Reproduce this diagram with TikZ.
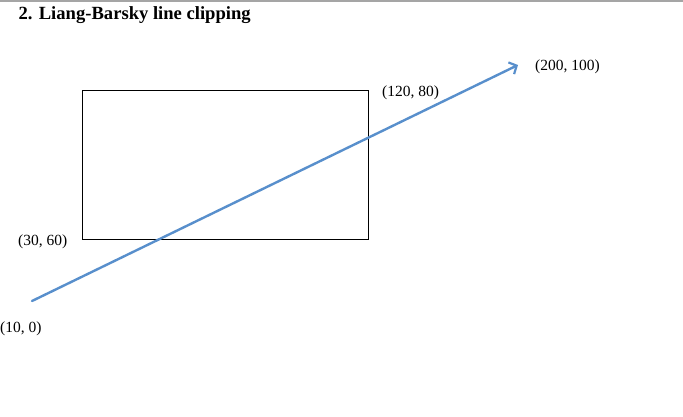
\documentclass[tikz,border=0pt]{standalone}
\usepackage{fontspec}
\setmainfont{Liberation Serif}
\usetikzlibrary{arrows.meta}
\definecolor{lineblue}{RGB}{88,143,204}
\definecolor{rulegray}{RGB}{165,165,165}
\tikzset{
  coordlabel/.style={anchor=base west, inner sep=0pt, font=\fontsize{15.5}{18}\selectfont},
  cliprect/.style={draw=black, line width=0.9pt, inner sep=0pt, minimum width=286pt, minimum height=149pt, anchor=north west},
  segment/.style={draw=lineblue, line width=2.4pt, line cap=round, -{Straight Barb[length=6pt,width=13pt,line width=2.2pt]}}
}
\begin{document}
\begin{tikzpicture}[x=1pt,y=-1pt]
\useasboundingbox (0,0) rectangle (683,416);
\fill[white] (0,0) rectangle (683,416);
\coordinate (rl) at (0,1);
\coordinate (rr) at (683,1);
\draw[rulegray, line width=2pt] (rl) -- (rr);
\node[anchor=base west, inner sep=0pt, font=\fontsize{18.6}{22}\selectfont\bfseries] (title) at (18.5,19.5) {2. Liang-Barsky line clipping};
\node[cliprect] (win) at (81.5,90) {};
\coordinate (p0) at (32,301);
\coordinate (p1) at (518,65);
\draw[segment] (p0) -- (p1);
\node[coordlabel] (l200) at (535,70.5) {(200, 100)};
\node[coordlabel] (l120) at (382,96) {(120, 80)};
\node[coordlabel] (l30) at (18,245) {(30, 60)};
\node[coordlabel] (l10) at (0,332) {(10, 0)};
\end{tikzpicture}
\end{document}
